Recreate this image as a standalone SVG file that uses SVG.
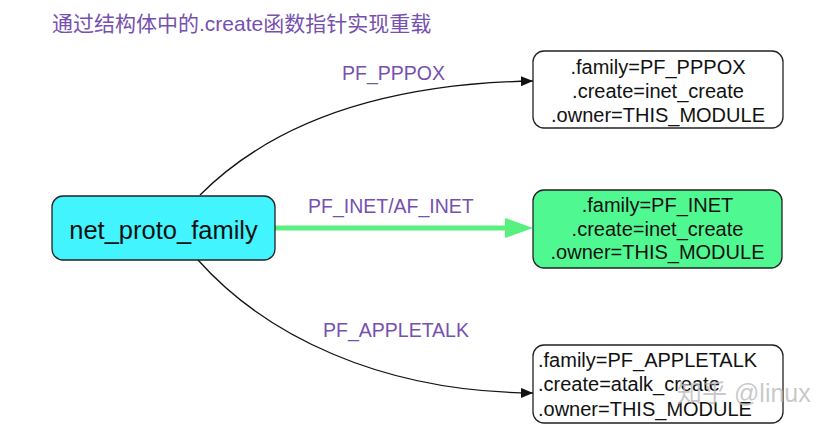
<svg xmlns="http://www.w3.org/2000/svg" width="833" height="430" viewBox="0 0 833 430">
<style>
.t{font-family:"Liberation Sans","Noto Sans CJK SC",sans-serif;}
.lbl{font-size:19.5px;fill:#7650b0;}
.box{stroke:#222;stroke-width:1.3;}
.nt{font-size:20px;fill:#111;}
</style>
<defs>
<marker id="ah" markerWidth="12" markerHeight="10" refX="12" refY="5" orient="auto" markerUnits="userSpaceOnUse">
<path d="M0,0 L12,5 L0,10 Z" fill="#111"/>
</marker>
</defs>
<rect width="833" height="430" fill="#fff"/>
<text class="t" x="52" y="31" font-size="21" fill="#7650b0">通过结构体中的.create函数指针实现重载</text>
<g id="connectors">
<path d="M200,195 C265,130 370,84 533,81" fill="none" stroke="#111" stroke-width="1.3" marker-end="url(#ah)"/>
<path d="M198,260 C265,335 380,392 533,393" fill="none" stroke="#111" stroke-width="1.3" marker-end="url(#ah)"/>
<line x1="275" y1="228" x2="508" y2="228" stroke="#58f07e" stroke-width="5"/>
<path d="M505,218 L533,228 L505,238 Z" fill="#58f07e"/>
<text class="t lbl" x="342" y="80">PF_PPPOX</text>
<text class="t lbl" x="308" y="213">PF_INET/AF_INET</text>
<text class="t lbl" x="323" y="337">PF_APPLETALK</text>
</g>
<g id="net_proto_family">
<rect class="box" x="52" y="196" width="223" height="64" rx="11" fill="#41f4fd"/>
<text class="t" x="163.5" y="239" font-size="25.5" fill="#111" text-anchor="middle">net_proto_family</text>
</g>
<g id="pppox">
<rect class="box" x="533" y="51" width="250" height="77" rx="11" fill="#fff"/>
<text class="t nt" x="658" y="74" text-anchor="middle">.family=PF_PPPOX</text>
<text class="t nt" x="658" y="98" text-anchor="middle">.create=inet_create</text>
<text class="t nt" x="658" y="122" text-anchor="middle">.owner=THIS_MODULE</text>
</g>
<g id="inet">
<rect class="box" x="533" y="190" width="249" height="78" rx="11" fill="#50f892"/>
<text class="t nt" x="657.5" y="212" text-anchor="middle">.family=PF_INET</text>
<text class="t nt" x="657.5" y="236" text-anchor="middle">.create=inet_create</text>
<text class="t nt" x="657.5" y="259" text-anchor="middle">.owner=THIS_MODULE</text>
</g>
<g id="appletalk">
<rect class="box" x="533" y="345" width="250" height="78" rx="11" fill="#fff"/>
<text class="t nt" x="538" y="367" font-size="19.5">.family=PF_APPLETALK</text>
<text class="t nt" x="538" y="391" font-size="19.5">.create=atalk_create</text>
<text class="t nt" x="538" y="416" font-size="19.5">.owner=THIS_MODULE</text>
</g>
<text class="t" x="677" y="402" font-size="25" fill="#bbbbbb" fill-opacity="0.8">知乎 @linux</text>
</svg>
